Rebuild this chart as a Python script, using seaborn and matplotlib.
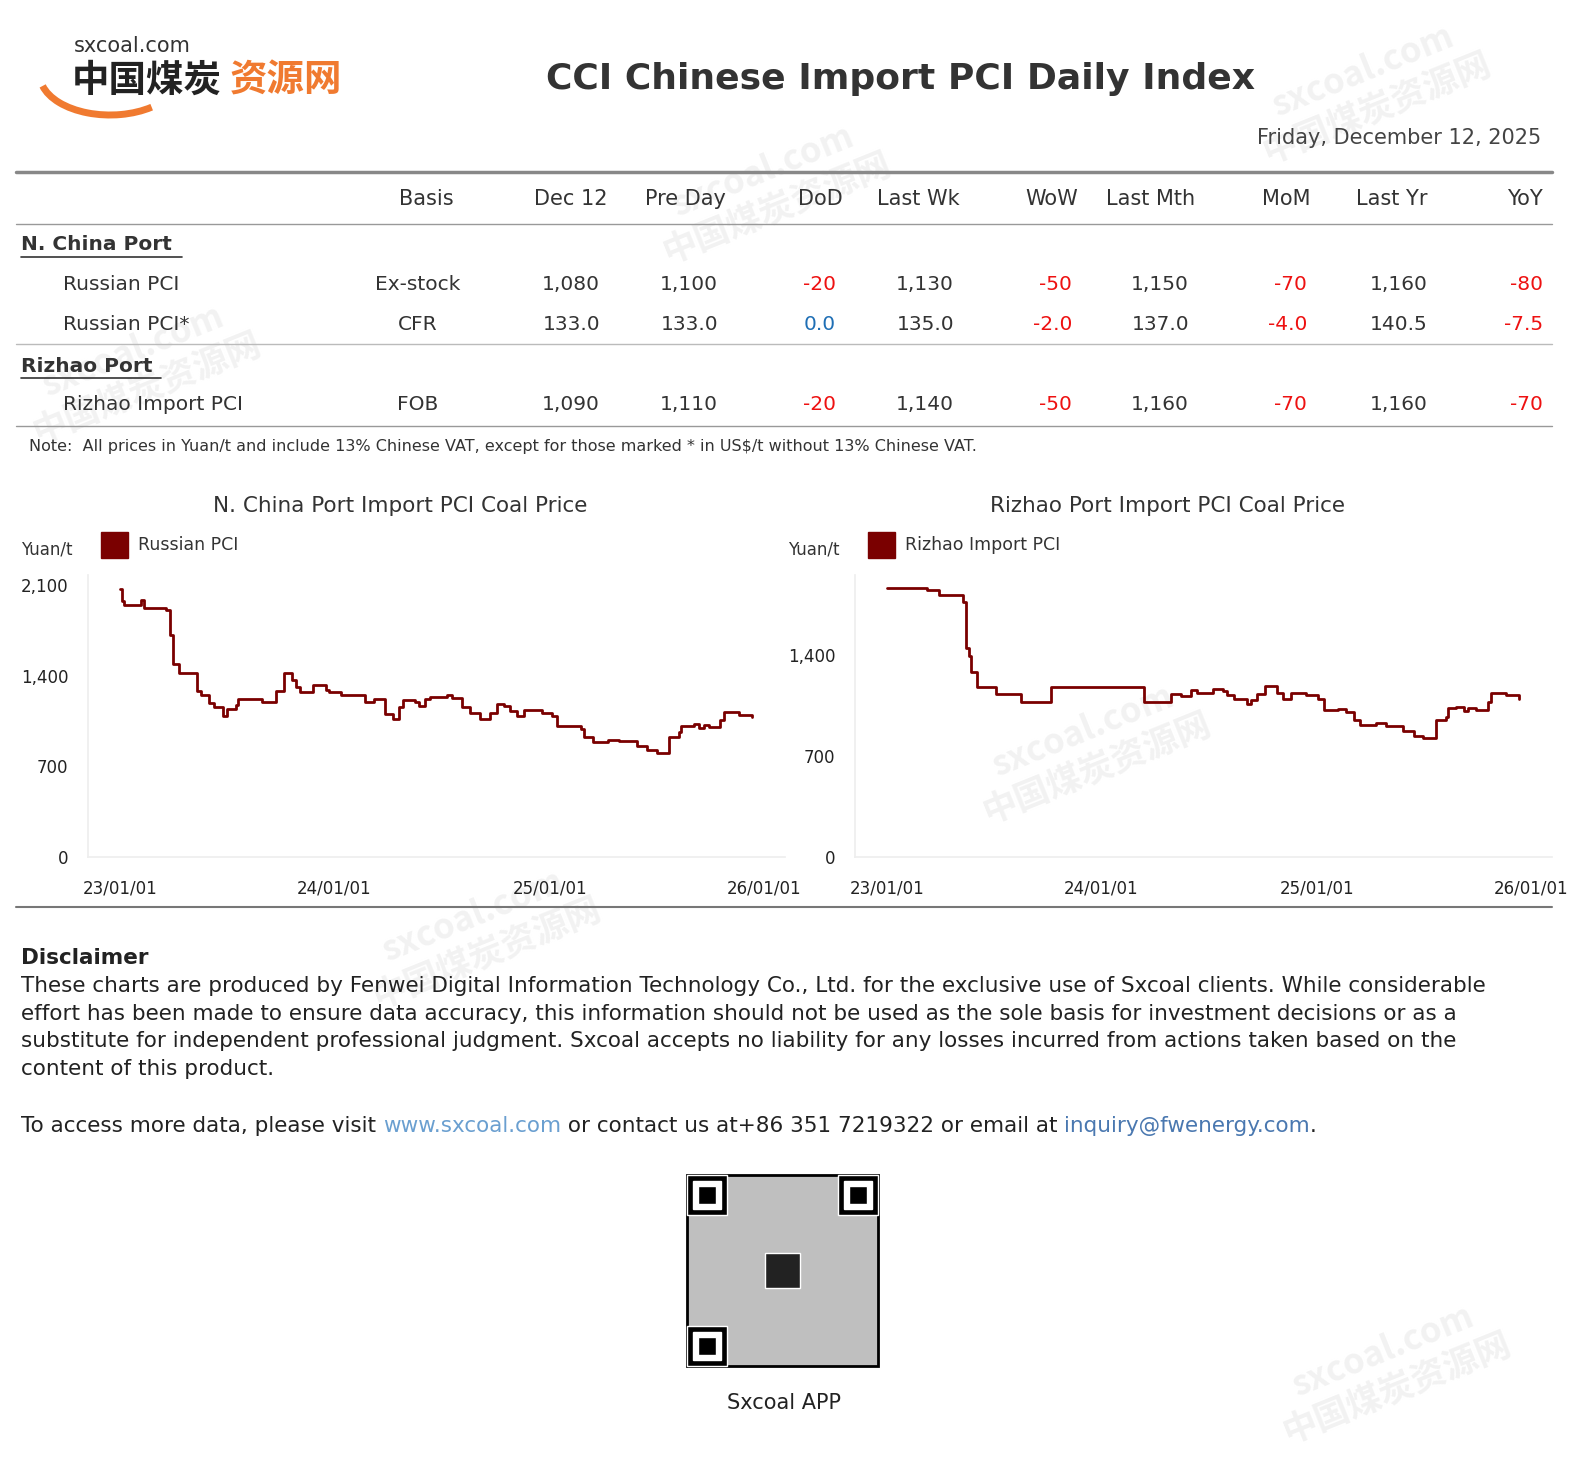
import matplotlib
matplotlib.use("Agg")
import matplotlib.pyplot as plt
from matplotlib.lines import Line2D
from matplotlib.patches import Rectangle, Arc
import pandas as pd
import seaborn as sns

sns.set_theme(style="white")
plt.rcParams['font.family'] = ['DejaVu Sans', 'Noto Sans CJK SC']

# ---- table data ----
columns = ["Basis", "Dec 12", "Pre Day", "DoD", "Last Wk", "WoW", "Last Mth", "MoM", "Last Yr", "YoY"]
row_names = ["Russian PCI", "Russian PCI*", "Rizhao Import PCI"]
row_basis = ["Ex-stock", "CFR", "FOB"]
row_values = [
    ["1,080", "1,100", "-20", "1,130", "-50", "1,150", "-70", "1,160", "-80"],
    ["133.0", "133.0", "0.0", "135.0", "-2.0", "137.0", "-4.0", "140.5", "-7.5"],
    ["1,090", "1,110", "-20", "1,140", "-50", "1,160", "-70", "1,160", "-70"],
]

# ---- chart data: (days since 2023-01-01, price) step points ----
start = pd.Timestamp("2023-01-01")
north_days = [0, 3, 7, 36, 42, 79, 85, 91, 100, 131, 138, 151, 161, 176, 183, 197, 201, 242,
              265, 279, 293, 299, 307, 328, 350, 356, 376, 417, 432, 451, 464, 474, 481, 502,
              508, 519, 527, 557, 565, 582, 595, 612, 629, 642, 654, 663, 676, 688, 718, 735,
              743, 769, 784, 790, 804, 830, 849, 879, 896, 913, 934, 951, 955, 976, 984, 993,
              1001, 1020, 1027, 1052, 1075]
north_price = [2073, 1977, 1950, 1988, 1924, 1910, 1718, 1490, 1424, 1282, 1250, 1191, 1157,
               1090, 1143, 1175, 1218, 1197, 1282, 1424, 1370, 1317, 1277, 1330, 1290, 1272,
               1250, 1197, 1218, 1103, 1069, 1157, 1210, 1197, 1170, 1224, 1237, 1250, 1231,
               1157, 1117, 1069, 1117, 1183, 1170, 1130, 1090, 1135, 1117, 1090, 1010, 1015,
               989, 924, 890, 908, 897, 858, 828, 801, 930, 964, 1015, 1029, 997, 1023, 1004,
               1058, 1122, 1098, 1080]
rizhao_days = [0, 69, 88, 129, 135, 140, 144, 154, 186, 228, 279, 438, 483, 501, 518, 527, 555,
               571, 579, 590, 613, 620, 630, 643, 664, 673, 688, 713, 734, 743, 768, 781, 794,
               805, 832, 849, 878, 897, 912, 934, 950, 955, 967, 982, 989, 1001, 1022, 1028,
               1052, 1075]
rizhao_price = [1863, 1844, 1813, 1760, 1448, 1388, 1280, 1177, 1124, 1071, 1177, 1071, 1124,
                1112, 1153, 1136, 1160, 1148, 1119, 1093, 1057, 1088, 1129, 1179, 1136, 1093,
                1131, 1119, 1093, 1016, 1023, 1004, 944, 913, 925, 908, 872, 836, 824, 944, 968,
                1033, 1040, 1011, 1033, 1016, 1071, 1136, 1117, 1090]

W, H = 1588, 1460
fig = plt.figure(figsize=(W / 100, H / 100), dpi=100)
fig.patch.set_facecolor("white")


def px(x, y):
    return x / W, 1 - y / H


def text(x, y, s, **kw):
    kw.setdefault("color", "#333333")
    kw.setdefault("va", "center")
    return fig.text(*px(x, y), s, **kw)


def hline(x0, x1, y, color="#999999", lw=1.0):
    a, b = px(x0, y)
    c, _ = px(x1, y)
    fig.add_artist(Line2D([a, c], [b, b], color=color, lw=lw, transform=fig.transFigure))


# faint watermarks (behind everything)
for wx, wy in [(770, 190), (1090, 750), (480, 935), (1390, 1370), (1370, 90), (140, 370)]:
    text(wx, wy, "sxcoal.com\n中国煤炭资源网", fontsize=25, color="#f2f2f2", rotation=22,
         ha="center", fontweight="bold", family=["Noto Sans CJK SC"], zorder=-5)

# logo
text(74, 46, "sxcoal.com", fontsize=15, color="#333333")
text(72, 80, "中国煤炭", fontsize=27, fontweight="bold", color="#222222", family=["Noto Sans CJK SC"])
text(230, 80, "资源网", fontsize=27, fontweight="bold", color="#f07a30", family=["Noto Sans CJK SC"])
fig.add_artist(Arc(px(110, 75), 140 / W, 80 / H, theta1=190, theta2=320, color="#f07a30",
                   lw=5, transform=fig.transFigure))

# title
text(900, 79, "CCI Chinese Import PCI Daily Index", fontsize=26, fontweight="bold",
     ha="center", color="#333333")
text(1541, 138, "Friday, December 12, 2025", fontsize=15, ha="right", color="#444444")

# table
hline(16, 1552, 172, color="#888888", lw=2.5)
header_x = [(426, "center"), (607, "right"), (726, "right"), (843, "right"), (960, "right"),
            (1078, "right"), (1195, "right"), (1311, "right"), (1428, "right"), (1543, "right")]
value_x = [600, 718, 836, 954, 1072, 1189, 1307, 1428, 1543]
for (hx, ha), name in zip(header_x, columns):
    text(hx, 199, name, fontsize=15, ha=ha)
hline(16, 1552, 224)


def section(y, s, width):
    text(21, y, s, fontsize=14.5, fontweight="bold")
    hline(21, 21 + width, y + 12, color="#333333", lw=1.2)


def row(y, i):
    text(63, y, row_names[i], fontsize=14.5)
    text(418, y, row_basis[i], fontsize=14.5, ha="center")
    for j, (vx, v) in enumerate(zip(value_x, row_values[i])):
        color = "#333333"
        if j in (2, 4, 6, 8):
            color = "#ee1111" if v.startswith("-") else "#1f6fb5"
        text(vx, y, v, fontsize=14.5, ha="right", color=color)


section(245, "N. China Port", 161)
row(285, 0)
row(324, 1)
hline(16, 1552, 344, color="#bbbbbb")
section(366, "Rizhao Port", 140)
row(405, 2)
hline(16, 1552, 426, color="#999999")
text(29, 446, "Note:  All prices in Yuan/t and include 13% Chinese VAT, except for those marked * in US$/t without 13% Chinese VAT.",
     fontsize=11.5)

# charts
line_color = "#7a0000"
charts = [
    (88, "N. China Port Import PCI Coal Price", "Russian PCI", north_days, north_price,
     [0, 700, 1400, 2100], (0, 2180)),
    (855, "Rizhao Port Import PCI Coal Price", "Rizhao Import PCI", rizhao_days, rizhao_price,
     [0, 700, 1400], (0, 1950)),
]
for x0, title, label, days, price, yticks, ylim in charts:
    l, b = px(x0, 857)
    ax = fig.add_axes([l, b, 697 / W, 282 / H])
    df = pd.DataFrame({"date": start + pd.to_timedelta(days, unit="D"), "price": price})
    sns.lineplot(data=df, x="date", y="price", ax=ax, color=line_color, lw=2,
                 drawstyle="steps-post", legend=False)
    ax.set_xlim(start - pd.Timedelta(days=54), start + pd.Timedelta(days=1075 + 56))
    ax.set_ylim(*ylim)
    ax.set_yticks(yticks)
    ax.set_yticklabels([f"{t:,}" for t in yticks], fontsize=12, color="#222222")
    ticks = pd.to_datetime(["2023-01-01", "2024-01-01", "2025-01-01", "2026-01-01"])
    ax.set_xticks(ticks)
    ax.set_xticklabels([t.strftime("%y/%m/%d") for t in ticks], fontsize=12, color="#222222")
    ax.tick_params(axis="x", length=0, pad=16)
    ax.tick_params(axis="y", length=0, pad=14)
    ax.set_xlabel("")
    ax.set_ylabel("")
    for s in ["top", "right"]:
        ax.spines[s].set_visible(False)
    for s in ["left", "bottom"]:
        ax.spines[s].set_color("#eeeeee")
    ax.set_facecolor("none")
    cx = x0 + 312
    text(cx, 506, title, fontsize=15.5, ha="center")
    text(x0 - 67, 550, "Yuan/t", fontsize=12)
    fig.add_artist(Rectangle(px(x0 + 13, 558), 27 / W, 26 / H, color=line_color,
                             transform=fig.transFigure))
    text(x0 + 50, 545, label, fontsize=12.5)

hline(16, 1552, 907, color="#777777", lw=1.5)

# disclaimer
text(21, 958, "Disclaimer", fontsize=15.5, fontweight="bold", color="#222222")
para = ["These charts are produced by Fenwei Digital Information Technology Co., Ltd. for the exclusive use of Sxcoal clients. While considerable",
        "effort has been made to ensure data accuracy, this information should not be used as the sole basis for investment decisions or as a",
        "substitute for independent professional judgment. Sxcoal accepts no liability for any losses incurred from actions taken based on the",
        "content of this product."]
for k, line in enumerate(para):
    text(21, 986 + k * 27.7, line, fontsize=15.5, color="#222222")
parts = [("To access more data, please visit ", "#222222"), ("www.sxcoal.com", "#6a9fd0"),
         (" or contact us at+86 351 7219322 or email at ", "#222222"),
         ("inquiry@fwenergy.com", "#4a78b0"), (".", "#222222")]
renderer = fig.canvas.get_renderer()
cur = 21
for s, c in parts:
    t = text(cur, 1126, s, fontsize=15.5, color=c)
    cur += t.get_window_extent(renderer).width

# QR placeholder
qx, qy, qs = 687, 1175, 191
fig.add_artist(Rectangle(px(qx, qy + qs), qs / W, qs / H, facecolor="#bfbfbf",
                         edgecolor="black", lw=2, transform=fig.transFigure))
for fx0, fy0 in [(qx, qy), (qx + qs - 40, qy), (qx, qy + qs - 40)]:
    fig.add_artist(Rectangle(px(fx0, fy0 + 40), 40 / W, 40 / H, facecolor="black",
                             transform=fig.transFigure))
    fig.add_artist(Rectangle(px(fx0 + 6, fy0 + 34), 28 / W, 28 / H, facecolor="white",
                             transform=fig.transFigure))
    fig.add_artist(Rectangle(px(fx0 + 11, fy0 + 29), 18 / W, 18 / H, facecolor="black",
                             transform=fig.transFigure))
fig.add_artist(Rectangle(px(qx + 78, qy + 113), 35 / W, 35 / H, facecolor="#222222",
                         transform=fig.transFigure))
text(784, 1403, "Sxcoal APP", fontsize=15, ha="center", color="#222222")

fig.savefig("out.png", dpi=100, facecolor="white")
